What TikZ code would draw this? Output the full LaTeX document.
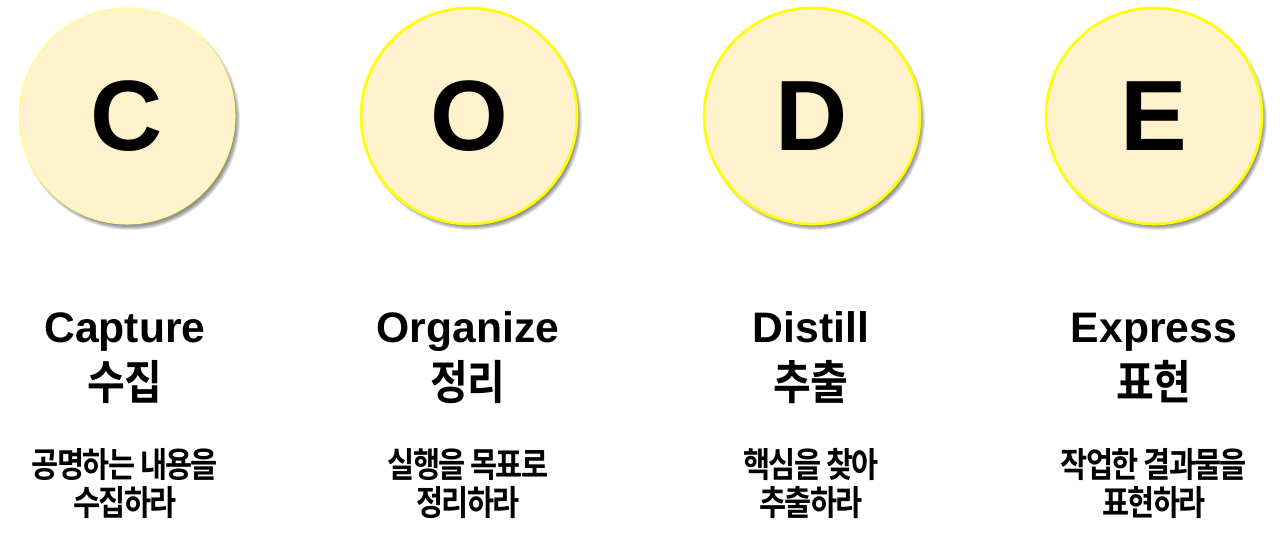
\documentclass[tikz,border=0pt]{standalone}
\usepackage{fontspec}
\newfontfamily\latb{Liberation Sans Bold}
\newfontfamily\krtitle[FakeStretch=0.88,LetterSpace=-3]{Noto Sans CJK KR Bold}
\newfontfamily\krdesc[FakeStretch=0.85,LetterSpace=-5]{Noto Sans CJK KR Bold}
\definecolor{cfill}{HTML}{FFF2CC}
\definecolor{cedge}{HTML}{FFFF00}
\definecolor{cedgelight}{HTML}{FFFF80}
\tikzset{
  letter/.style={circle, minimum size=162pt, inner sep=0pt, fill=cfill, draw=cedge, line width=2pt,
    font=\latb\fontsize{75pt}{75pt}\selectfont},
  shadowring/.style={fill=black, opacity=0.1},
  titlelat/.style={anchor=base, inner sep=0pt, font=\latb\fontsize{32pt}{32pt}\selectfont},
  titlekr/.style={anchor=base, inner sep=0pt, font=\krtitle\fontsize{35pt}{35pt}\selectfont},
  desc/.style={anchor=base, inner sep=0pt, font=\krdesc\fontsize{26pt}{26pt}\selectfont},
}
\begin{document}
\begin{tikzpicture}[x=0.75pt,y=-0.75pt]
\useasboundingbox[fill=white] (0,0) rectangle (1280,543);
% shadows
\foreach \cx in {127,469,812,1154}{
  \foreach \dr in {-2,-1,0,1,2}{
    \fill[shadowring] (\cx+3,120) circle ({108+\dr});
  }
}
% circles
\node[letter, draw=cedgelight, line width=0.8pt] (cC) at (127,116) {C};
\node[letter] (cO) at (469,116) {O};
\node[letter] (cD) at (812,116) {D};
\node[letter] (cE) at (1154,116) {E};
% titles
\node[titlelat] (tC) at (125,342) {Capture};
\node[titlelat] (tO) at (468,342) {Organize};
\node[titlelat] (tD) at (811,342) {Distill};
\node[titlelat] (tE) at (1154,342) {Express};
\node[titlekr] (kC) at (125,399) {수집};
\node[titlekr] (kO) at (468,399) {정리};
\node[titlekr] (kD) at (811,399) {추출};
\node[titlekr] (kE) at (1154,399) {표현};
% descriptions
\node[desc] (d1C) at (125,477) {공명하는 내용을};
\node[desc] (d2C) at (125,515) {수집하라};
\node[desc] (d1O) at (468,477) {실행을 목표로};
\node[desc] (d2O) at (468,515) {정리하라};
\node[desc] (d1D) at (811,477) {핵심을 찾아};
\node[desc] (d2D) at (811,515) {추출하라};
\node[desc] (d1E) at (1154,477) {작업한 결과물을};
\node[desc] (d2E) at (1154,515) {표현하라};
\end{tikzpicture}
\end{document}
